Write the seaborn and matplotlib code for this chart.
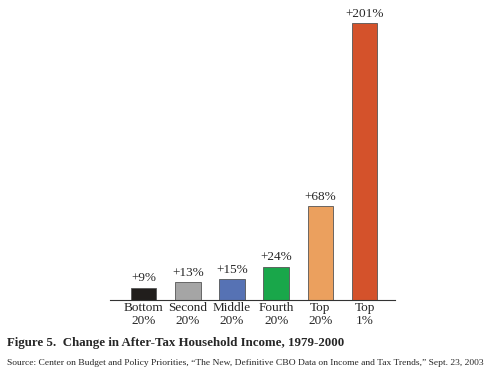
import pandas as pd
import seaborn as sns
from matplotlib import pyplot as plt

sns.set_theme(style="white")
plt.rcParams['font.family'] = ['Liberation Serif', 'DejaVu Serif']

# income groups and their change in after-tax income, 1979-2000 (%)
groups = ["Bottom\n20%", "Second\n20%", "Middle\n20%", "Fourth\n20%", "Top\n20%", "Top\n1%"]
change = [9, 13, 15, 24, 68, 201]
colors = ["#211e1c", "#a5a5a5", "#5672b4", "#19a74a", "#eba05e", "#d4522b"]

df = pd.DataFrame({"group": groups, "change": change})

fig = plt.figure(figsize=(5, 3.79), dpi=100)
ax = fig.add_axes([0.22, 0.2084, 0.57, 0.765])

sns.barplot(data=df, x="group", y="change", hue="group", palette=colors,
            saturation=1, legend=False, width=0.58,
            edgecolor="#555555", linewidth=0.6, ax=ax)

for i, v in enumerate(change):
    ax.text(i, v + 2.5, "+%d%%" % v, ha="center", va="bottom", fontsize=9.5)

ax.set_xlim(-0.76, 5.69)
ax.set_ylim(0, 210.4)
ax.set_xlabel("")
ax.set_ylabel("")
ax.set_yticks([])
ax.tick_params(axis="x", length=0, pad=1.5, labelsize=9.5)
for lbl in ax.get_xticklabels():
    lbl.set_linespacing(1.05)
for s in ["top", "right", "left"]:
    ax.spines[s].set_visible(False)
ax.spines["bottom"].set_color("#333333")
ax.spines["bottom"].set_linewidth(0.8)

fig.text(0.014, 1 - 343 / 379, "Figure 5.  Change in After-Tax Household Income, 1979-2000",
         fontsize=9.3, fontweight="bold", va="center")
fig.text(0.014, 1 - 363 / 379,
         "Source: Center on Budget and Policy Priorities, \u201cThe New, Definitive CBO Data on Income and Tax Trends,\u201d Sept. 23, 2003",
         fontsize=6.8, va="center")

fig.savefig("out.png", dpi=100)
